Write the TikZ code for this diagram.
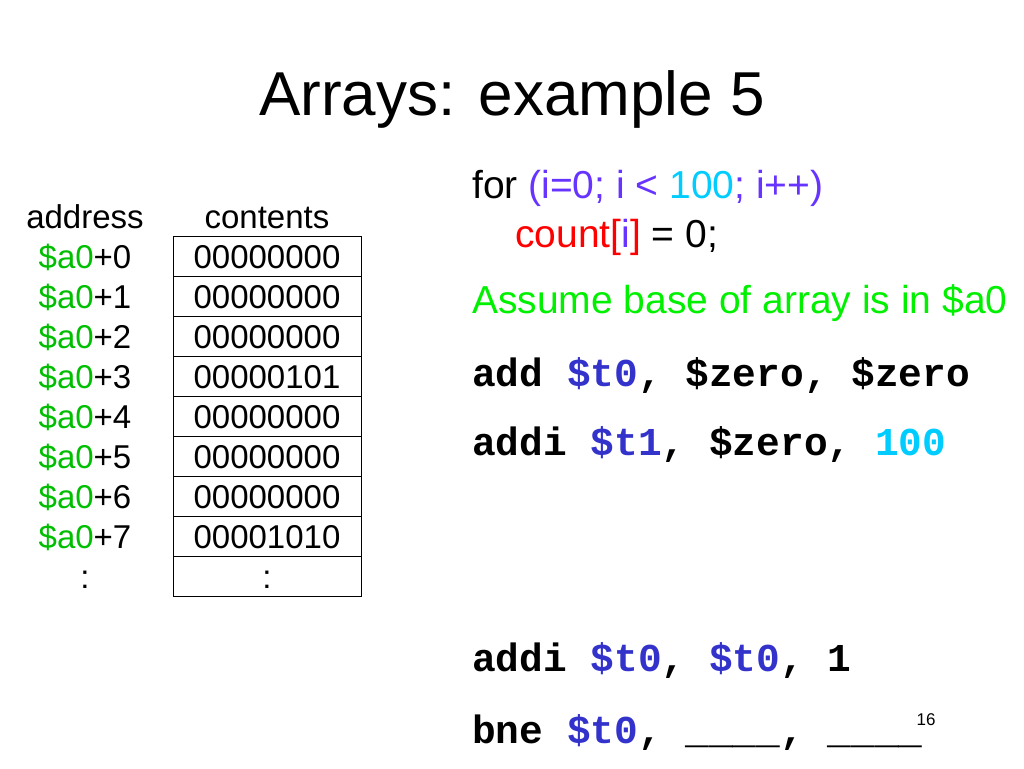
\documentclass[tikz,border=0pt]{standalone}
\usepackage{fontspec}
\setmainfont{Liberation Sans}
\newfontfamily\codefont{Liberation Mono}
\definecolor{grn}{RGB}{0,190,0}
\definecolor{brgrn}{RGB}{0,240,0}
\definecolor{regblue}{RGB}{51,51,204}
\definecolor{cyn}{RGB}{0,204,255}
\definecolor{purp}{RGB}{102,51,255}
\begin{document}
\begin{tikzpicture}[x=1pt,y=-1pt,
  txt/.style={inner sep=0pt,anchor=base west,font=\fontsize{39}{41}\selectfont},
  ctr/.style={inner sep=0pt,anchor=base,font=\fontsize{33}{35}\selectfont},
  code/.style={inner sep=0pt,anchor=base west,font=\codefont\bfseries\fontsize{39.5}{41}\selectfont},
  cell/.style={draw,line width=0.8pt,minimum width=188pt,minimum height=40pt,inner sep=0pt,anchor=north west}]
\useasboundingbox (0,0) rectangle (1024,768);
\node[inner sep=0pt,anchor=base,font=\fontsize{62}{64}\selectfont] (title) at (512,115) {Arrays: example 5};
\node[ctr] (haddr) at (85,228) {address};
\node[ctr] (hcont) at (267,228) {contents};
\foreach \v [count=\i from 0] in {00000000,00000000,00000000,00000101,00000000,00000000,00000000,00001010,:}{
  \node[cell] (c\i) at (173,{236+40*\i}) {};
  \node[ctr] (v\i) at (267,{268+40*\i}) {\v};
}
\foreach \i in {0,...,7}{
  \node[ctr] (a\i) at (85,{268+40*\i}) {\textcolor{grn}{\$a0}+\i};
}
\node[ctr] (a8) at (85,588) {:};
\node[txt] (for) at (472,198) {for \textcolor{purp}{(i=0; i \textless} \textcolor{cyn}{100}\textcolor{purp}{; i++)}};
\node[txt] (cnt) at (515,247) {\textcolor{red}{count[}\textcolor{purp}{i}\textcolor{red}{]} = 0;};
\node[txt] (assume) at (472,313) {\textcolor{brgrn}{Assume base of array is in \$a0}};
\node[code] (l1) at (472,386) {add \textcolor{regblue}{\$t0}, \$zero, \$zero};
\node[code] (l2) at (472,455) {addi \textcolor{regblue}{\$t1}, \$zero, \textcolor{cyn}{100}};
\node[code] (l3) at (472,671) {addi \textcolor{regblue}{\$t0}, \textcolor{regblue}{\$t0}, 1};
\node[code] (l4) at (472,743) {bne \textcolor{regblue}{\$t0}, \_\_\_\_, \_\_\_\_};
\node[inner sep=0pt,anchor=base,font=\fontsize{17}{18}\selectfont] (pg) at (926,725) {16};
\end{tikzpicture}
\end{document}
